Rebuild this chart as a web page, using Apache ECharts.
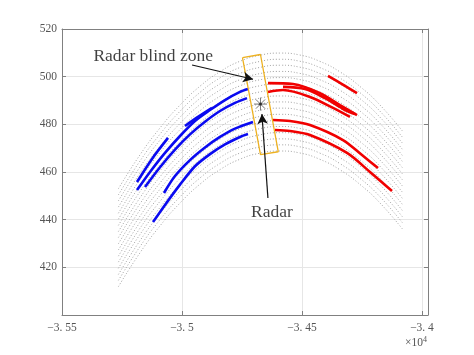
<!DOCTYPE html>
<html><head><meta charset="utf-8">
<script src="https://cdn.jsdelivr.net/npm/echarts@6/dist/echarts.min.js"></script>
<style>html,body{margin:0;padding:0;background:#fff}#c{width:474px;height:355px}</style>
</head><body><div id="c"></div>
<script>
// ---- axis ticks ----
const xTickValues = [-35500, -35000, -34500, -34000];
const xTickLabels = ['\u22123. 55', '\u22123. 5', '\u22123. 45', '\u22123. 4'];
const yTickValues = [420, 440, 460, 480, 500, 520];
const yTickLabels = ['420', '440', '460', '480', '500', '520'];

// ---- dotted lane arcs: innermost arc + vertical offsets of each arc ----
const arcX = [-35265, -35175, -35090, -35010, -34925, -34840, -34760, -34675, -34590, -34510, -34425, -34340, -34255, -34175, -34080];
const arcInnerY = [411.9, 426.1, 437.6, 446.8, 454.9, 461.1, 465.3, 467.9, 468.8, 468.0, 465.3, 460.8, 454.5, 447.0, 435.9];
const arcOffsets = [0, 2.6, 5.1, 7.7, 10.3, 12.8, 15.4, 18.0, 20.6, 23.1, 25.7, 28.3, 30.8, 33.4, 36.0, 38.5, 41.1];

// ---- blue tracks (left of radar) ----
const blueTrack1 = [[-35187.5,452.4],[-35133.3,460.0],[-35070.8,468.0],[-35008.3,475.1],[-34945.8,481.4],[-34883.3,486.0],[-34820.8,490.2],[-34758.3,493.6],[-34725,494.8]];
const blueTrack2 = [[-35154.2,453.7],[-35091.7,462.0],[-35029.2,469.4],[-34966.7,475.8],[-34904.2,481.1],[-34841.7,485.6],[-34779.2,489.0],[-34729.2,491.0]];
const blueTrack3 = [[-35187.5,455.8],[-35125,465.5],[-35058.3,474.3]];
const blueTrack4 = [[-34987.5,479.3],[-34933.3,483.1],[-34875,486.9]];
const blueTrack5 = [[-35075,451.2],[-35029.2,458.3],[-34966.7,465.0],[-34904.2,470.3],[-34841.7,474.7],[-34779.2,478.2],[-34704.2,481.0]];
const blueTrack6 = [[-35120.8,439.0],[-35070.8,446.2],[-35008.3,454.7],[-34945.8,462.4],[-34883.3,467.5],[-34820.8,471.6],[-34758.3,474.7],[-34725,475.9]];

// ---- red tracks (right of radar) ----
const redTrack1 = [[-34391.7,500.3],[-34333.3,496.9],[-34270.8,493.1]];
const redTrack2 = [[-34641.7,497.3],[-34537.5,496.9],[-34425,493.1],[-34341.7,488.1],[-34270.8,483.9]];
const redTrack3 = [[-34641.7,493.6],[-34579.2,494.4],[-34466.7,491.5],[-34370.8,486.9],[-34300,483.1]];
const redTrack4 = [[-34579.2,495.7],[-34487.5,494.8],[-34404.2,491.0],[-34320.8,486.0],[-34279.2,484.3]];
const redTrack5 = [[-34620.8,481.8],[-34550,481.4],[-34466.7,479.7],[-34329.2,473.4],[-34250,467.1],[-34183.3,461.7]];
const redTrack6 = [[-34612.5,477.6],[-34550,477.2],[-34466.7,475.5],[-34312.5,468.0],[-34216.7,460.0],[-34125,452.0]];

// ---- radar, blind zone, annotations ----
const blindZone = [[-34748,508.0],[-34673,509.3],[-34599,468.5],[-34673,467.3],[-34748,508.0]];
const radarPos = [-34673, 488.5];
const blindZoneLabelPos = [-35120, 508.7];
const blindZoneArrow = [[-34958, 504.9], [-34704, 498.9]];
const radarLabelPos = [-34625, 443.2];
const radarArrow = [[-34642, 449.1], [-34667, 484.3]];

const serifFont = '"Liberation Serif", "Times New Roman", serif';
const chart = echarts.init(document.getElementById('c'));
const series = [];

arcOffsets.forEach(off => {
  series.push({
    type: 'line', silent: true, symbol: 'none', smooth: true, z: 2,
    data: arcX.map((x, j) => [x, arcInnerY[j] + off]),
    lineStyle: { color: '#a3a3a3', width: 1, type: [1, 2] }
  });
});

[blueTrack1, blueTrack2, blueTrack3, blueTrack4, blueTrack5, blueTrack6].forEach(d => {
  series.push({ type: 'line', silent: true, symbol: 'none', smooth: 0.3, z: 3, data: d,
    lineStyle: { color: '#0a0af0', width: 2.6 } });
});
[redTrack1, redTrack2, redTrack3, redTrack4, redTrack5, redTrack6].forEach(d => {
  series.push({ type: 'line', silent: true, symbol: 'none', smooth: 0.3, z: 3, data: d,
    lineStyle: { color: '#f00000', width: 2.6 } });
});

series.push({
  type: 'line', silent: true, symbol: 'none', z: 4, data: blindZone,
  lineStyle: { color: '#EDB120', width: 1.3 },
  markLine: {
    silent: true, symbol: ['none', 'arrow'], symbolSize: [8, 10],
    lineStyle: { color: '#111', width: 1.2, type: 'solid' },
    label: { show: false },
    data: [
      [{ coord: blindZoneArrow[0] }, { coord: blindZoneArrow[1] }],
      [{ coord: radarArrow[0] }, { coord: radarArrow[1] }]
    ]
  }
});

series.push({
  type: 'scatter', silent: true, z: 5, data: [radarPos],
  symbol: 'path://M0,-10L0,10M-10,0L10,0M-7.07,-7.07L7.07,7.07M-7.07,7.07L7.07,-7.07',
  symbolSize: 13,
  itemStyle: { color: 'rgba(0,0,0,0)', borderColor: '#555', borderWidth: 1 }
});
series.push({
  type: 'scatter', silent: true, z: 6, data: [radarPos], symbol: 'circle', symbolSize: 3,
  itemStyle: { color: '#222' }
});

series.push({
  type: 'scatter', silent: true, z: 6, symbolSize: 1, itemStyle: { color: 'rgba(0,0,0,0)' },
  data: [
    { value: blindZoneLabelPos, label: { formatter: 'Radar blind zone' } },
    { value: radarLabelPos, label: { formatter: 'Radar' } }
  ],
  label: { show: true, position: 'inside', color: '#111', fontFamily: serifFont, fontSize: 17.5 }
});

function fmt(values, labels) {
  return v => { const i = values.indexOf(Math.round(v * 1000) / 1000); return i >= 0 ? labels[i] : ''; };
}
const axisLineStyle = { color: '#808080', width: 1 };
const tickStyle = { show: true, inside: true, length: 4, lineStyle: { color: '#808080' } };

chart.setOption({
  animation: false,
  backgroundColor: '#fff',
  grid: { left: 62, right: 46, top: 29, bottom: 40, containLabel: false },
  xAxis: [
    { type: 'value', min: -35500, max: -33975, interval: 500, position: 'bottom',
      axisLine: { show: true, lineStyle: axisLineStyle }, axisTick: tickStyle,
      axisLabel: { formatter: fmt(xTickValues, xTickLabels), color: '#555', fontSize: 11.5,
        fontFamily: serifFont, margin: 7, showMaxLabel: false },
      splitLine: { show: true, lineStyle: { color: '#e6e6e6', width: 1 } } },
    { type: 'value', min: -35500, max: -33975, interval: 500, position: 'top',
      axisLine: { show: true, lineStyle: axisLineStyle }, axisTick: tickStyle,
      axisLabel: { show: false }, splitLine: { show: false } }
  ],
  yAxis: [
    { type: 'value', min: 400, max: 520, interval: 20, position: 'left',
      axisLine: { show: true, lineStyle: axisLineStyle }, axisTick: tickStyle,
      axisLabel: { formatter: fmt(yTickValues, yTickLabels), color: '#555', fontSize: 11.5,
        fontFamily: serifFont, margin: 5 },
      splitLine: { show: true, lineStyle: { color: '#e6e6e6', width: 1 } } },
    { type: 'value', min: 400, max: 520, interval: 20, position: 'right',
      axisLine: { show: true, lineStyle: axisLineStyle }, axisTick: tickStyle,
      axisLabel: { show: false }, splitLine: { show: false } }
  ],
  graphic: [{
    type: 'text', right: 47, top: 336,
    style: {
      text: '{a|\u00d710}{b|4}', fill: '#555',
      rich: { a: { fontSize: 11.5, fontFamily: serifFont, fill: '#555' },
              b: { fontSize: 8, fontFamily: serifFont, fill: '#555', verticalAlign: 'top', padding: [0, 0, 6, 0] } }
    }
  }],
  series: series
});
</script>
</body></html>
